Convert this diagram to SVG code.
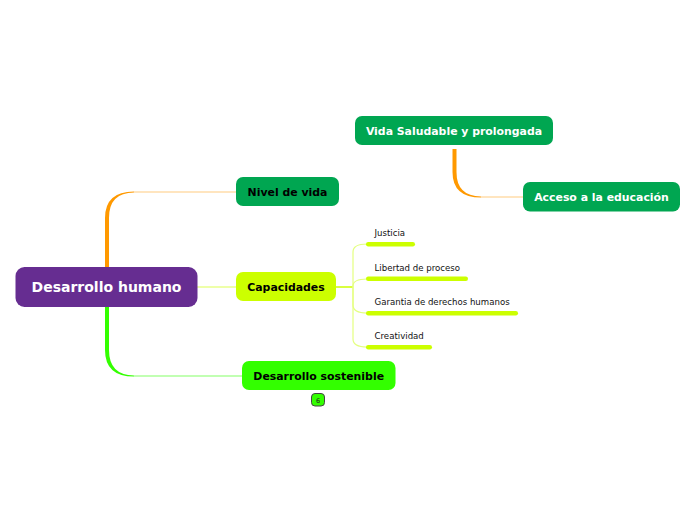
<svg xmlns="http://www.w3.org/2000/svg" width="696" height="520" viewBox="0 0 696 520">
<style>
text{font-family:"DejaVu Sans",Verdana,sans-serif}
.n{font-size:10.900px;font-weight:bold;text-anchor:middle;fill:#000}
.w{fill:#fff}
.s{font-size:8.600px;fill:#111}
.bar{fill:#ccff00}
</style>
<rect width="696" height="520" fill="#fff"/>
<g id="connectors" fill="none">
<path d="M109 267V218Q109 192.800 134 192.600V191.400Q105 191.400 105 218V267Z" fill="#ff9900"/>
<path d="M134 192H236" stroke="#ffcc80" stroke-width="1.200"/>
<path d="M197 287H236" stroke="#e8ff8c" stroke-width="1.500"/>
<path d="M109 307V350Q109 375.200 134 375.400V376.600Q105 376.600 105 350V307Z" fill="#33ff00"/>
<path d="M134 376H242" stroke="#adff99" stroke-width="1.500"/>
<path d="M456.500 149V172Q456.500 196.300 481 196.400V197.600Q452.500 197.600 452.500 172V149Z" fill="#ff9900"/>
<path d="M481 197H523" stroke="#ffcc80" stroke-width="1.200"/>
<path d="M336 287H353" stroke="#ccff00" stroke-width="1.500"/>
<g stroke="#e4ff80" stroke-width="1.200">
<path d="M353 287V252Q353 244 367 244"/>
<path d="M353 287V286Q353 279 367 279"/>
<path d="M353 287V305Q353 313 367 313"/>
<path d="M353 287V339Q353 347 367 347"/>
</g>
</g>
<g id="center"><rect x="15.500" y="267" width="182" height="40" rx="9" fill="#662d91"/><text x="106.500" y="292" text-anchor="middle" font-size="14px" font-weight="bold" fill="#fff">Desarrollo humano</text></g>
<g id="nivel"><rect x="236" y="177" width="103" height="29" rx="7" fill="#00a651"/><text class="n" x="287.500" y="196">Nivel de vida</text></g>
<g id="capacidades"><rect x="236" y="272" width="100" height="29" rx="7" fill="#ccff00"/><text class="n" x="286" y="291">Capacidades</text></g>
<g id="sostenible"><rect x="242" y="361" width="153.500" height="29" rx="7" fill="#33ff00"/><text class="n" x="318.700" y="380">Desarrollo sostenible</text></g>
<g id="badge"><rect x="311.500" y="393.500" width="13" height="12.500" rx="3.500" fill="#33ff00" stroke="#444"/><text x="318" y="402.500" text-anchor="middle" font-size="6.500px" fill="#222">6</text></g>
<g id="vida"><rect x="355" y="116" width="198" height="29" rx="7" fill="#00a651"/><text class="n w" x="454" y="135">Vida Saludable y prolongada</text></g>
<g id="acceso"><rect x="523" y="182" width="157" height="29.500" rx="7" fill="#00a651"/><text class="n w" x="601.500" y="201">Acceso a la educación</text></g>
<g id="justicia"><rect class="bar" x="366" y="242" width="49" height="4.500" rx="2.200"/><text class="s" x="374.500" y="236">Justicia</text></g>
<g id="libertad"><rect class="bar" x="366" y="276.500" width="102" height="4.500" rx="2.200"/><text class="s" x="374.500" y="271">Libertad de proceso</text></g>
<g id="garantia"><rect class="bar" x="366" y="311" width="152" height="4.500" rx="2.200"/><text class="s" x="374.500" y="305">Garantia de derechos humanos</text></g>
<g id="creatividad"><rect class="bar" x="366" y="345" width="66" height="4.500" rx="2.200"/><text class="s" x="374.500" y="339">Creatividad</text></g>
</svg>
